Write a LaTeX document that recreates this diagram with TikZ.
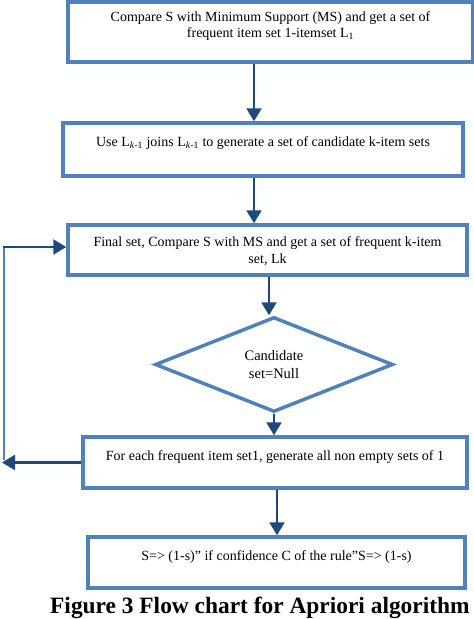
\documentclass[tikz,border=0pt]{standalone}
\usepackage{fontspec}
\setmainfont{Liberation Serif}
\usetikzlibrary{arrows.meta,shapes.geometric}
\definecolor{boxblue}{RGB}{79,129,189}
\definecolor{arrblue}{RGB}{31,73,125}
\tikzset{
  stepbox/.style={draw=boxblue, line width=3.5pt, fill=white, inner sep=0pt},
  txt/.style={font=\fontsize{14}{16}\selectfont, align=center, inner sep=0pt},
  arr/.style={draw=arrblue, line width=2.5pt, -{Triangle[width=15pt,length=13pt]}},
  loopline/.style={draw=boxblue, line width=2.5pt}
}
\begin{document}
\begin{tikzpicture}[x=1pt,y=-1pt]
\useasboundingbox (0,0) rectangle (474,619);
% boxes
\node[stepbox, minimum width=405pt, minimum height=60pt] (b1) at (270.5,32) {};
\node[stepbox, minimum width=400pt, minimum height=53pt] (b2) at (263,149.5) {};
\node[stepbox, minimum width=399pt, minimum height=50pt] (b3) at (267.5,250) {};
\node[draw=boxblue, line width=3.5pt, fill=white, diamond, inner sep=0pt, minimum width=238pt, minimum height=95pt] (d) at (274,364.5) {};
\node[stepbox, minimum width=384pt, minimum height=51pt] (b4) at (275,462.5) {};
\node[stepbox, minimum width=377pt, minimum height=51pt] (b5) at (276.5,562.5) {};
% texts
\node[txt, font=\fontsize{14}{15.5}\selectfont] (t1) at ([yshift=6pt]b1.center) {Compare S with Minimum Support (MS) and get a set of\\frequent item set 1-itemset L\textsubscript{1}};
\node[txt] (t2) at ([yshift=6.5pt]b2.center) {Use L\textsubscript{\textit{k}-1} joins L\textsubscript{\textit{k}-1} to generate a set of candidate k-item sets};
\node[txt, font=\fontsize{14}{17}\selectfont] (t3) at ([yshift=-1.5pt]b3.center) {Final set, Compare S with MS and get a set of frequent k-item\\set, Lk};
\node[txt, font=\fontsize{14.5}{18}\selectfont] (td) at (d.center) {Candidate\\set=Null};
\node[txt] (t4) at ([yshift=5.5pt]b4.center) {For each frequent item set1, generate all non empty sets of 1};
\node[txt] (t5) at ([yshift=5.5pt]b5.center) {S=> (1-s)” if confidence C of the rule”S=> (1-s)};
% connectors
\draw[arr] ([xshift=-16.5pt]b1.south) -- ([xshift=-16.5pt]b1.south |- b2.north);
\draw[arr] ([xshift=-9pt]b2.south) -- ([xshift=-9pt]b2.south |- b3.north);
\draw[arr] ([xshift=1.5pt]b3.south) -- ([xshift=1.5pt]b3.south |- d.north);
\draw[arr] (d.south) -- (d.south |- b4.north);
\draw[arr] ([xshift=2pt]b4.south) -- ([xshift=2pt]b4.south |- b5.north);
% feedback loop
\coordinate (l1) at (2,462.5);
\coordinate (l2) at (4,460);
\coordinate (l3) at (4,247);
\draw[arr] (b4.west) -- (l1);
\draw[loopline] (l2) -- (l3);
\draw[arr, line cap=rect] (l3) -- (l3 -| b3.west);
% caption
\node[anchor=base west, inner sep=0pt, font=\fontsize{23.4}{26}\selectfont\bfseries] (cap) at (50,613) {Figure 3 Flow chart for Apriori algorithm};
\end{tikzpicture}
\end{document}
